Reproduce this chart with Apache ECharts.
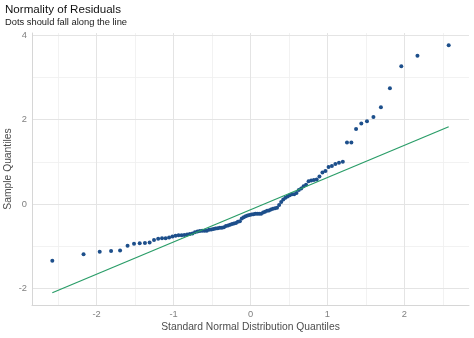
<!DOCTYPE html>
<html><head><meta charset="utf-8">
<script src="https://cdn.jsdelivr.net/npm/echarts@6/dist/echarts.min.js"></script>
<style>html,body{margin:0;padding:0;background:#fff}#c{width:474px;height:338px}</style>
</head><body><div id="c"></div>
<script>
const theoreticalQ = [-2.576,-2.170,-1.960,-1.812,-1.695,-1.598,-1.514,-1.440,-1.372,-1.311,-1.254,-1.200,-1.150,-1.103,-1.058,-1.015,-0.974,-0.935,-0.896,-0.860,-0.824,-0.789,-0.755,-0.722,-0.690,-0.659,-0.628,-0.598,-0.568,-0.539,-0.510,-0.482,-0.454,-0.426,-0.399,-0.372,-0.345,-0.319,-0.292,-0.266,-0.240,-0.215,-0.189,-0.164,-0.138,-0.113,-0.088,-0.063,-0.038,-0.013,
0.013,0.038,0.063,0.088,0.113,0.138,0.164,0.189,0.215,0.240,0.266,0.292,0.319,0.345,0.372,0.399,0.426,0.454,0.482,0.510,0.539,0.568,0.598,0.628,0.659,0.690,0.722,0.755,0.789,0.824,0.860,0.896,0.935,0.974,1.015,1.058,1.103,1.150,1.200,1.254,1.311,1.372,1.440,1.514,1.598,1.695,1.812,1.960,2.170,2.576];
const sampleQ = [-1.34,-1.19,-1.13,-1.11,-1.10,-0.99,-0.94,-0.93,-0.92,-0.91,-0.85,-0.82,-0.81,-0.81,-0.79,-0.77,-0.75,-0.74,-0.74,-0.73,-0.72,-0.71,-0.70,-0.67,-0.65,-0.64,-0.63,-0.63,-0.63,-0.61,-0.60,-0.59,-0.58,-0.57,-0.56,-0.56,-0.55,-0.52,-0.51,-0.49,-0.47,-0.46,-0.45,-0.42,-0.41,-0.34,-0.31,-0.29,-0.27,-0.26,
-0.25,-0.24,-0.23,-0.23,-0.23,-0.23,-0.20,-0.18,-0.16,-0.15,-0.13,-0.11,-0.10,-0.09,-0.02,0.05,0.11,0.15,0.18,0.21,0.23,0.23,0.26,0.33,0.37,0.42,0.46,0.54,0.56,0.57,0.58,0.65,0.75,0.78,0.88,0.90,0.95,0.98,1.00,1.46,1.46,1.78,1.91,1.96,2.06,2.29,2.74,3.26,3.51,3.76];
const refLineX = [-2.576, 2.576];
const refLineY = [-2.10, 1.83];
const xTicks = [-2, -1, 0, 1, 2];
const xMinorTicks = [-2.5, -1.5, -0.5, 0.5, 1.5, 2.5];
const yTicks = [-2, 0, 2, 4];
const yMinorTicks = [-1, 1, 3];
const xRange = [-2.84, 2.84];
const yRange = [-2.39, 4.05];

const FONT = '"Liberation Sans", Arial, sans-serif';
const chart = echarts.init(document.getElementById('c'), null, {renderer: 'canvas'});
const majorColor = '#e4e4e4', minorColor = '#efefef';
function mkAxis(range, ticks, major, extra) {
  return Object.assign({
    type: 'value', min: range[0], max: range[1],
    axisLine: {show: false, onZero: false},
    axisTick: {show: false, customValues: ticks},
    axisLabel: major ? {customValues: ticks, color: '#808080', fontSize: 9.3, fontFamily: FONT, margin: 5} : {show: false},
    splitLine: {show: true, lineStyle: {color: major ? majorColor : minorColor, width: major ? 1 : 0.8}},
    z: major ? 2 : 1
  }, extra || {});
}
const points = theoreticalQ.map((x, i) => [x, sampleQ[i]]);
const refLine = refLineX.map((x, i) => [x, refLineY[i]]);
chart.setOption({
  animation: false,
  backgroundColor: '#fff',
  title: {
    text: 'Normality of Residuals', subtext: 'Dots should fall along the line',
    left: 5, top: 4, itemGap: 2, padding: 0,
    textStyle: {fontFamily: FONT, fontSize: 11.6, fontWeight: 'normal', color: '#111'},
    subtextStyle: {fontFamily: FONT, fontSize: 9.35, color: '#1a1a1a'}
  },
  grid: {left: 32, right: 5, top: 33, bottom: 33, containLabel: false, outerBoundsMode: 'none'},
  xAxis: [
    mkAxis(xRange, xTicks, true, {
      position: 'bottom',
      axisLine: {show: true, onZero: false, lineStyle: {color: '#d6d6d6', width: 1}},
      name: 'Standard Normal Distribution Quantiles', nameLocation: 'middle', nameGap: 17,
      nameMoveOverlap: false,
      nameTextStyle: {fontFamily: FONT, fontSize: 10.3, color: '#4d4d4d'}
    }),
    mkAxis(xRange, xMinorTicks, false, {position: 'bottom'})
  ],
  yAxis: [
    mkAxis(yRange, yTicks, true, {
      position: 'left',
      axisLine: {show: true, onZero: false, lineStyle: {color: '#d6d6d6', width: 1}},
      name: 'Sample Quantiles', nameLocation: 'middle', nameGap: 18.5,
      nameMoveOverlap: false,
      nameTextStyle: {fontFamily: FONT, fontSize: 10.3, color: '#4d4d4d'}
    }),
    mkAxis(yRange, yMinorTicks, false, {position: 'left'})
  ],
  series: [
    {type: 'scatter', xAxisIndex: 0, yAxisIndex: 0, data: points, symbolSize: 4,
     itemStyle: {color: '#1d4f8b', opacity: 1}, z: 3},
    {type: 'line', xAxisIndex: 0, yAxisIndex: 0, data: refLine, showSymbol: false, symbol: 'none',
     lineStyle: {color: '#2a9d68', width: 1.3}, z: 4}
  ]
});
</script></body></html>
